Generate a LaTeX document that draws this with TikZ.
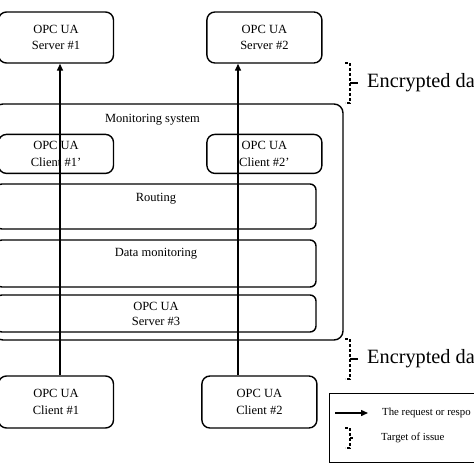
\documentclass[tikz,border=0pt]{standalone}
\usepackage{fontspec}
\setmainfont{Liberation Serif}
\usetikzlibrary{arrows.meta,positioning}

\begin{document}
\begin{tikzpicture}[
    x=1pt, y=-1pt,
    unitbox/.style={draw, rounded corners=8pt, line width=1.4pt, align=center, minimum width=115pt, inner sep=2pt, font=\fontsize{12.5}{16.5}\selectfont},
    layerbox/.style={draw, rounded corners=6pt, line width=1.4pt, align=center, minimum width=320pt, inner sep=2pt, font=\fontsize{12.5}{15}\selectfont},
    toplabel/.style={anchor=north, font=\fontsize{12.5}{15}\selectfont},
    link/.style={-{Triangle[length=7pt,width=6pt]}, line width=1.4pt},
    issue/.style={dash pattern=on 3pt off 2pt, line width=1.4pt},
    encnote/.style={inner xsep=0pt, font=\fontsize{20.3}{24}\selectfont},
    legendtext/.style={anchor=west, inner xsep=0pt, font=\fontsize{10.8}{13}\selectfont}
]
\useasboundingbox (0,0) rectangle (474,474);
\clip (0,0) rectangle (474,474);

% servers on top
\node[unitbox, minimum height=51pt] (srv1) at (56,37.5) {OPC UA\\Server \#1};
\node[unitbox, minimum height=51pt, right=92pt of srv1] (srv2) {OPC UA\\Server \#2};

% monitoring system
\node[draw, rounded corners=9pt, line width=1.4pt, minimum width=349pt, minimum height=236pt,
      label={[toplabel, xshift=-16pt, yshift=-7pt]north:Monitoring system}] (mon) at (168.5,222) {};
\node[unitbox, minimum height=39pt, below=70pt of srv1] (cli1p) {OPC UA\\Client \#1'};
\node[unitbox, minimum height=39pt, right=92pt of cli1p] (cli2p) {OPC UA\\Client \#2'};
\node[layerbox, minimum height=45pt, label={[toplabel, yshift=-6pt]north:Routing}] (rout) at (156,206.5) {};
\node[layerbox, minimum height=47pt, label={[toplabel, yshift=-5pt]north:Data monitoring}] (datamon) at (156,263.5) {};
\node[layerbox, minimum height=37pt] (srv3) at (156,313.5) {OPC UA\\Server \#3};

% clients at the bottom
\node[unitbox, minimum height=52pt] (cli1) at (56,402) {OPC UA\\Client \#1};
\node[unitbox, minimum height=52pt, right=87pt of cli1] (cli2) {OPC UA\\Client \#2};

% request paths
\coordinate (colA) at (60,0);
\coordinate (colB) at (238,0);
\draw[link] (cli1.north -| colA) -- (srv1.south -| colA);
\draw[link] (cli2.north -| colB) -- (srv2.south -| colB);

% targets of issue
\coordinate (tipA) at (350,83);
\draw[issue] (tipA) ++(-5,-20) -- ++(5,0) -- ++(0,40) -- ++(-5,0);
\draw[line width=1.4pt] (tipA) -- ++(8,0);
\node[encnote, right=17pt of tipA] (encA) {Encrypted da};
\coordinate (tipB) at (350,359);
\draw[issue] (tipB) ++(-5,-20) -- ++(5,0) -- ++(0,40) -- ++(-5,0);
\draw[line width=1.4pt] (tipB) -- ++(8,0);
\node[encnote, right=17pt of tipB] (encB) {Encrypted da};

% legend
\node[draw, line width=1.4pt, anchor=north west, minimum width=180pt, minimum height=69pt] (legend) at (329,393) {};
\coordinate (lgS) at (335,413);
\coordinate (lgE) at (368,413);
\draw[link] (lgS) -- (lgE);
\node[legendtext] (lgReq) at (382,413) {The request or respo};
\coordinate (tipC) at (350,438);
\draw[issue] (tipC) ++(-5,-10) -- ++(5,0) -- ++(0,20) -- ++(-5,0);
\draw[line width=1.4pt] (tipC) -- ++(3,0);
\node[legendtext] (lgTgt) at (381,438) {Target of issue};
\end{tikzpicture}
\end{document}
